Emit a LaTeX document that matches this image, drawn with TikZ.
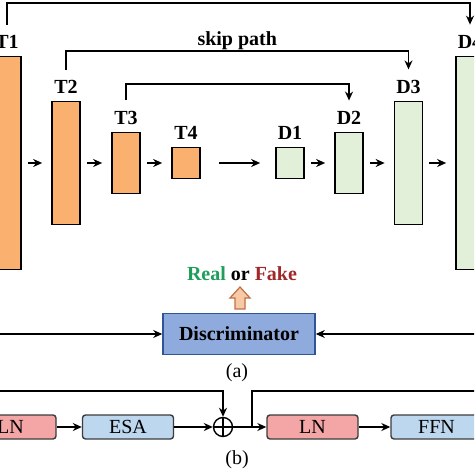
\documentclass[tikz,border=0pt]{standalone}
\usepackage{fontspec}
\setmainfont{Liberation Serif}
\usetikzlibrary{arrows.meta, positioning}
\definecolor{tfill}{RGB}{250,176,110}
\definecolor{dfill}{RGB}{226,240,217}
\definecolor{discfill}{RGB}{143,170,220}
\definecolor{discdraw}{RGB}{47,85,151}
\definecolor{lnfill}{RGB}{244,166,166}
\definecolor{safill}{RGB}{189,215,238}
\definecolor{realc}{RGB}{30,158,90}
\definecolor{fakec}{RGB}{160,40,40}
\definecolor{upfill}{RGB}{248,201,166}
\definecolor{updraw}{RGB}{192,112,64}
\tikzset{
	blk/.style={draw=black, line width=0.85pt, minimum width=14pt, inner sep=0pt},
	tbox/.style={blk, fill=tfill},
	dbox/.style={blk, fill=dfill},
	lbl/.style={font=\bfseries, inner xsep=1pt, inner ysep=5pt},
	arr/.style={line width=0.7pt, -{Stealth[length=4.5pt,width=4pt]}},
	skip/.style={arr},
	rbox/.style={draw={rgb,255:red,60;green,60;blue,60}, line width=0.7pt, rounded corners=1.5pt,
		minimum width=45.5pt, minimum height=12pt, inner sep=0pt},
	lnbox/.style={rbox, fill=lnfill},
	sabox/.style={rbox, fill=safill},
}
\begin{document}
\begin{tikzpicture}[x=0.5pt,y=-0.5pt]
			\clip (0,0) rectangle (474,474);
			% encoder / decoder blocks
			\node[tbox, minimum height=106.5pt] (t1) at (7,163) {};
			\node[tbox, minimum height=61.5pt] (t2) at (66,163) {};
			\node[tbox, minimum height=30.5pt] (t3) at (126,163) {};
			\node[tbox, minimum height=15.5pt] (t4) at (186,163) {};
			\node[dbox, minimum height=15.5pt] (d1) at (290,163) {};
			\node[dbox, minimum height=30.5pt] (d2) at (349,163) {};
			\node[dbox, minimum height=61.5pt] (d3) at (408.5,163) {};
			\node[dbox, minimum height=106.5pt] (d4) at (470,163) {};
			\node[lbl, above=-1.5pt of t1] (t1l) {T1};
			\node[lbl, above=-1.5pt of t2] (t2l) {T2};
			\node[lbl, above=-1.5pt of t3] (t3l) {T3};
			\node[lbl, above=-1.5pt of t4] (t4l) {T4};
			\node[lbl, above=-1.5pt of d1] (d1l) {D1};
			\node[lbl, above=-1.5pt of d2] (d2l) {D2};
			\node[lbl, above=-1.5pt of d3] (d3l) {D3};
			\node[lbl, above=-1.5pt of d4] (d4l) {D4};
			\draw[arr, shorten <=3pt, shorten >=4.5pt] (t1) -- (t2);
			\draw[arr, shorten <=3pt, shorten >=4.5pt] (t2) -- (t3);
			\draw[arr, shorten <=3pt, shorten >=4.5pt] (t3) -- (t4);
			\draw[arr, shorten <=9pt, shorten >=7.5pt] (t4) -- (d1);
			\draw[arr, shorten <=3pt, shorten >=4.5pt] (d1) -- (d2);
			\draw[arr, shorten <=3pt, shorten >=4.5pt] (d2) -- (d3);
			\draw[arr, shorten <=3pt, shorten >=4.5pt] (d3) -- (d4);
			% skip paths
			\coordinate (sk1) at (0,3);
			\coordinate (sk2) at (0,51);
			\coordinate (sk3) at (0,84);
			\draw[skip] (t1l.north) -- (t1l.north |- sk1) -| (d4l.north);
			\draw[skip] (t2l.north) -- (t2l.north |- sk2) -| node[pos=0.25, above, font=\bfseries, inner sep=0.5pt]{skip path} (d3l.north);
			\draw[skip] (t3l.north) -- (t3l.north |- sk3) -| (d2l.north);
			% discriminator
			\node[font=\bfseries] (rf) at (242,274) {\textcolor{realc}{Real} or \textcolor{fakec}{Fake}};
			\filldraw[fill=upfill, draw=updraw, line width=0.6pt] (240,287) -- (250,298) -- (245,298) -- (245,309)
				-- (235,309) -- (235,298) -- (230,298) -- cycle;
			\node[draw=discdraw, fill=discfill, line width=0.8pt, font=\bfseries, minimum width=76pt,
				minimum height=20.5pt, inner sep=0pt] (disc) at (239,334) {Discriminator};
			\coordinate (dinl) at (-4,334);
			\coordinate (dinr) at (478,334);
			\draw[arr] (dinl) -- (disc);
			\draw[arr] (dinr) -- (disc);
			\node (capa) at (237,373) {(a)};
			% transformer block
			\node[lnbox] (ln1) at (10.5,427) {LN};
			\node[sabox] (esa) at (128,427) {ESA};
			\node[draw, circle, line width=0.7pt, minimum size=9.5pt, inner sep=0pt] (sum) at (223,427) {};
			\draw[line width=0.7pt] (sum.north) -- (sum.south) (sum.west) -- (sum.east);
			\node[lnbox] (ln2) at (312.5,427) {LN};
			\node[sabox] (ffn) at (436.5,427) {FFN};
			\draw[arr] (ln1) -- (esa);
			\draw[arr] (esa) -- (sum);
			\draw[arr] (sum) -- (ln2);
			\draw[arr] (ln2) -- (ffn);
			\coordinate (res1) at (-4,391);
			\coordinate (res2) at (478,391);
			\coordinate (br) at (252,427);
			\draw[arr] (res1) -| (sum);
			\draw[line width=0.7pt] (br) |- (res2);
			\node (capb) at (237,460) {(b)};
		\end{tikzpicture}
\end{document}
